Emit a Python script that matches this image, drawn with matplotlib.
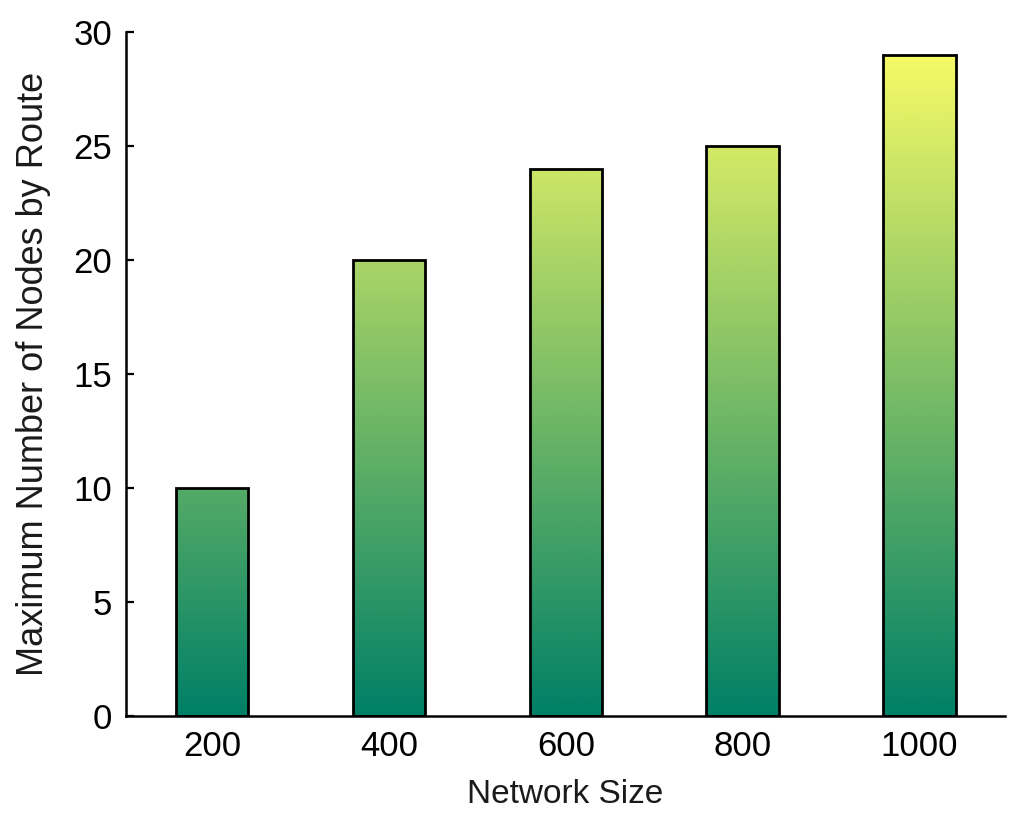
import numpy as np
import matplotlib.pyplot as plt

sizes = ['200', '400', '600', '800', '1000']
max_nodes = [10, 20, 24, 25, 29]

plt.rcParams['font.family'] = ['Liberation Sans', 'DejaVu Sans']

fig = plt.figure(figsize=(10.24, 8.19), dpi=100)
ax = fig.add_axes([0.123, 0.126, 0.858, 0.835])

x = np.arange(len(sizes))
bars = ax.bar(x, max_nodes, width=0.41, facecolor='none', edgecolor='black',
              linewidth=2.0, zorder=3)

# vertical gradient (same scale for all bars, 0 -> 30)
grad = np.linspace(0, 1, 256).reshape(-1, 1)
for b in bars:
    im = ax.imshow(grad, cmap='summer', origin='lower', aspect='auto',
                   extent=(-0.5, 4.5, 0, 30), zorder=2)
    im.set_clip_path(b)

ax.set_xlim(-0.486, 4.48)
ax.set_ylim(0, 30)
ax.set_yticks(range(0, 31, 5))
ax.set_xticks(x)
ax.set_xticklabels(sizes)
ax.tick_params(axis='y', direction='in', length=6, width=1.6, labelsize=25, pad=10)
ax.tick_params(axis='x', length=0, labelsize=25, pad=10)

for s in ['top', 'right']:
    ax.spines[s].set_visible(False)
for s in ['left', 'bottom']:
    ax.spines[s].set_linewidth(1.8)

ax.set_xlabel('Network Size', fontsize=24, color='#1a1a1a', labelpad=12)
ax.set_ylabel('Maximum Number of Nodes by Route', fontsize=26, color='#1a1a1a', labelpad=16)

fig.savefig('out.png', dpi=100)
